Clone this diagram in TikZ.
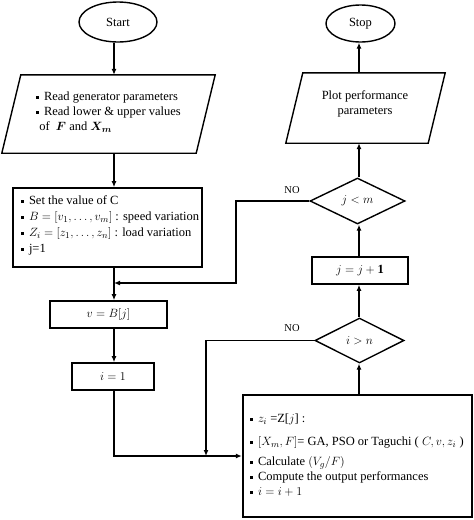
\documentclass[tikz,border=0pt]{standalone}
\usepackage{amsmath,bm}
\usepackage{fontspec}
\setmainfont{Liberation Serif}
\usetikzlibrary{arrows.meta,shapes.geometric}
\newcommand{\bul}{\raisebox{0.3ex}{\rule{2.6pt}{2.6pt}}\ \,}
\begin{document}
\begin{tikzpicture}[x=1pt,y=-1pt,
  every node/.style={font=\fontsize{12.5}{15}\selectfont},
  ln/.style={line width=1.4pt},
  arr/.style={ln,-{Latex[length=6pt,width=5pt]}},
  term/.style={ellipse,draw,line width=1.4pt,inner sep=0pt},
  pbox/.style={rectangle,draw,line width=1.6pt,inner sep=0pt},
  dec/.style={diamond,draw,line width=1.4pt,inner sep=0pt,aspect=2},
  txt/.style={align=left,anchor=west,inner sep=0pt},
  lbl/.style={font=\fontsize{10.5}{12}\selectfont,inner sep=0pt}]
\useasboundingbox (0,0) rectangle (474,520);
\coordinate (mx) at (114,0);
\coordinate (rx) at (359,0);
% left column
\node[term,minimum width=78,minimum height=40] (start) at (118,22) {Start};
\node[minimum width=213,minimum height=78,inner sep=0pt] (p1) at (108.5,114) {};
\draw[ln] ([xshift=19pt]p1.north west) -- (p1.north east) -- ([xshift=-19pt]p1.south east) -- (p1.south west) -- cycle;
\node[txt] (p1t) at (36,112) {\bul Read generator parameters\\ \bul Read lower \& upper values\\ \ of \ $\bm{F}$ and $\bm{X_m}$};
\node[pbox,minimum width=189,minimum height=79] (b1) at (107.5,227.5) {};
\node[txt] (b1t) at (21,225.5) {\thickmuskip=3.5mu\thinmuskip=2mu \bul Set the value of C\\[1pt] \bul $B=[v_1,\ldots,v_m]$ : speed variation\\[1pt] \bul $Z_i=[z_1,\ldots,z_n]$ : load variation\\[1pt] \bul j=1};
\node[pbox,minimum width=117,minimum height=27] (bv) at (108.5,314.5) {$v=B[j]$};
\node[pbox,minimum width=82,minimum height=27] (bi) at (113,376.5) {$i=1$};
% right column
\node[term,minimum width=69,minimum height=37] (stop) at (360.5,23.5) {Stop};
\node[minimum width=159,minimum height=70,inner sep=0pt] (p2) at (365.5,108) {};
\draw[ln] ([xshift=17pt]p2.north west) -- (p2.north east) -- ([xshift=-17pt]p2.south east) -- (p2.south west) -- cycle;
\node[align=center,inner sep=0pt] (p2t) at (365,104) {Plot performance\\ parameters};
\node[dec,minimum width=95,minimum height=46] (djm) at (357.5,201) {$j<m$};
\node[pbox,minimum width=96,minimum height=27] (bj) at (360,270.5) {$j=j+\mathbf{1}$};
\node[dec,minimum width=89,minimum height=45] (din) at (359.5,340.5) {$i>n$};
\node[pbox,line width=2.4pt,minimum width=229,minimum height=122] (big) at (357.5,456) {};
\node[txt] (bigt) at (250,455) {\bul $z_i$ =Z[$j$] :\\[8pt] \bul $[X_m,F]$= GA, PSO or Taguchi ( $C,v,z_i$ )\\[5pt] \bul Calculate $(V_g/F)$\\ \bul Compute the output performances\\ \bul $i=i+1$};
% connectors
\draw[arr] (start.south -| mx) -- (p1.north -| mx);
\draw[arr] (p1.south -| mx) -- (b1.north -| mx);
\draw[arr] (b1.south -| mx) -- (bv.north -| mx);
\draw[arr] (bv.south -| mx) -- (bi.north -| mx);
\coordinate (c1) at (236,283);
\coordinate (c2) at (206,456);
\draw[arr] (djm.west) -| (c1) -- (c1 -| mx);
\draw[arr] (din.west) -| (c2);
\draw[arr] (bi.south -| mx) |- (big.west);
\draw[arr] (big.north -| rx) -- (din.south -| rx);
\draw[arr] (din.north -| rx) -- (bj.south -| rx);
\draw[arr] (bj.north -| rx) -- (djm.south -| rx);
\draw[arr] (djm.north -| rx) -- (p2.south -| rx);
\draw[arr] (p2.north -| rx) -- (stop.south -| rx);
\node[lbl] (no1) at (292,190) {NO};
\node[lbl] (no2) at (292,328) {NO};
\end{tikzpicture}
\end{document}
